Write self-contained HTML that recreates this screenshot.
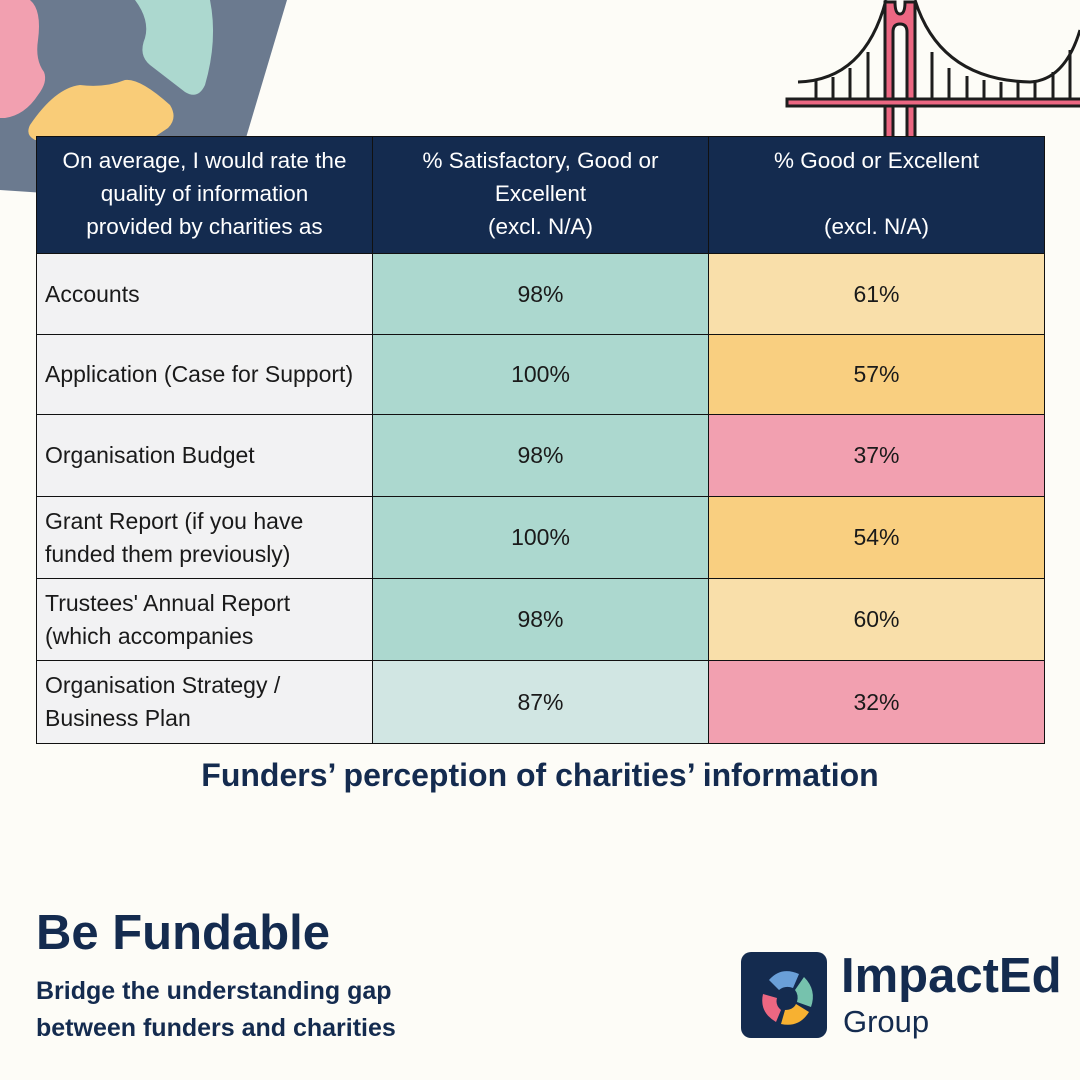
<!DOCTYPE html>
<html><head><meta charset="utf-8"><style>
body{margin:0;width:1080px;height:1080px;background:#fdfcf7;position:relative;overflow:hidden;font-family:"Liberation Sans","DejaVu Sans",sans-serif;}
.abs{position:absolute;}
.cell{position:absolute;box-sizing:border-box;border:1px solid #111;display:flex;align-items:center;font-size:23px;color:#1a1a1a;line-height:33px;}
.hd{background:#142b4f;color:#fff;justify-content:center;text-align:center;align-items:flex-start;padding-top:7px;font-size:22.5px;}
.lab{background:#f2f2f3;padding-left:8px;}
.val{justify-content:center;}
</style></head><body>
<svg class="abs" style="left:0;top:0" width="300" height="220">
<polygon points="0,0 287,0 226,205 0,190" fill="#6b7a8f"/>
<path d="M0,0 L30,0 Q42,10 38,40 Q35,60 44,72 Q48,82 38,95 Q25,115 5,118 L0,118Z" fill="#f2a0b0"/>
<path d="M135,0 L210,0 Q218,40 205,85 Q198,100 185,92 L150,65 Q138,55 145,38 Q150,20 135,0Z" fill="#acd8cf"/>
<path d="M30,125 Q55,88 80,85 Q105,88 125,80 Q140,78 170,105 Q178,118 168,128 L150,140 L35,140 Q25,135 30,125Z" fill="#f9cc78"/>
</svg>
<svg class="abs" style="left:780px;top:0" width="300" height="140" fill="none" stroke="#1d1d1d" stroke-width="3">
<path d="M18,82 Q85,80 106,0" /><path d="M135,0 Q160,80 250,82 Q285,80 300,30"/>
<g stroke-width="3"><line x1="36" y1="81" x2="36" y2="99"/><line x1="53" y1="77" x2="53" y2="99"/><line x1="70" y1="68" x2="70" y2="99"/><line x1="88" y1="52" x2="88" y2="99"/><line x1="152" y1="52" x2="152" y2="99"/><line x1="169" y1="68" x2="169" y2="99"/><line x1="187" y1="76" x2="187" y2="99"/><line x1="204" y1="80" x2="204" y2="99"/><line x1="221" y1="82" x2="221" y2="99"/><line x1="238" y1="82" x2="238" y2="99"/><line x1="255" y1="80" x2="255" y2="99"/><line x1="273" y1="72" x2="273" y2="99"/><line x1="290" y1="50" x2="290" y2="99"/></g>
<path d="M105,140 V2 H115 Q115,14 120,14 Q125,14 125,2 H135 V140 H127 V32 Q127,24 120,24 Q113,24 113,32 V140Z" fill="#ec6782"/>
<rect x="7" y="99" width="300" height="7" fill="#ec6782"/>
</svg>
<div id="tbl"></div>
<div class="abs" style="left:36px;width:1008px;top:757px;text-align:center;font-size:32px;font-weight:bold;color:#142b4f">Funders’ perception of charities’ information</div>
<div class="abs" style="left:36px;top:905px;font-size:49px;font-weight:bold;color:#142b4f">Be Fundable</div>
<div class="abs" style="left:36px;top:973px;font-size:25px;font-weight:bold;color:#142b4f;line-height:37px">Bridge the understanding gap<br>between funders and charities</div>
<div class="abs" style="left:741px;top:952px;width:320px;height:88px">
<svg width="88" height="88" style="position:absolute;left:0;top:0"><rect width="86" height="86" rx="10" fill="#142b4f"/>
<path d="M28,28 Q40,14 58,22 L52,36 Q44,33 38,38Z" fill="#6a9fd8"/>
<path d="M63,25 Q76,38 70,55 L56,50 Q58,43 54,38Z" fill="#76c2ad"/>
<path d="M68,60 Q58,76 40,72 L44,58 Q52,58 55,52Z" fill="#f7b131"/>
<path d="M35,70 Q18,60 22,42 L36,46 Q34,53 40,58Z" fill="#ec6782"/></svg>
<div style="position:absolute;left:100px;top:-4px;font-size:49px;font-weight:bold;color:#142b4f">ImpactEd</div>
<div style="position:absolute;left:102px;top:52px;font-size:31px;color:#142b4f">Group</div>
</div>
<script>
const categories=["Accounts","Application (Case for Support)","Organisation Budget","Grant Report (if you have<br>funded them previously)","Trustees' Annual Report<br>(which accompanies","Organisation Strategy /<br>Business Plan"];
const satisfactory=[98,100,98,100,98,87];
const goodExcellent=[61,57,37,54,60,32];
const headers=["On average, I would rate the<br>quality of information<br>provided by charities as","% Satisfactory, Good or<br>Excellent<br>(excl. N/A)","% Good or Excellent<br><br>(excl. N/A)"];
const X=[36,372,708,1044], rowTops=[253,334,414,496,578,660,743], headTop=136;
const t=document.getElementById('tbl');
function satColor(v){return v>=95?'#acd8cf':'#d1e6e3';}
function geColor(v){return v>=58?'#f9dfaa':(v>=50?'#f9cf80':'#f2a0b0');}
function mk(cls,x,y,w,h,html,bg){const d=document.createElement('div');d.className='cell '+cls;d.style.left=x+'px';d.style.top=y+'px';d.style.width=w+'px';d.style.height=h+'px';if(bg)d.style.background=bg;d.innerHTML=html;t.appendChild(d);return d;}
headers.forEach((h,i)=>{const d=mk('hd',X[i],headTop,X[i+1]-X[i]+1,rowTops[0]-headTop+1,h);

});
categories.forEach((c,r)=>{const y=rowTops[r],h=rowTops[r+1]-y+1;
const a=mk('lab',X[0],y,X[1]-X[0]+1,h,c);


const b=mk('val',X[1],y,X[2]-X[1]+1,h,satisfactory[r]+'%',satColor(satisfactory[r]));


const g=mk('val',X[2],y,X[3]-X[2]+1,h,goodExcellent[r]+'%',geColor(goodExcellent[r]));

});
</script>
</body></html>
